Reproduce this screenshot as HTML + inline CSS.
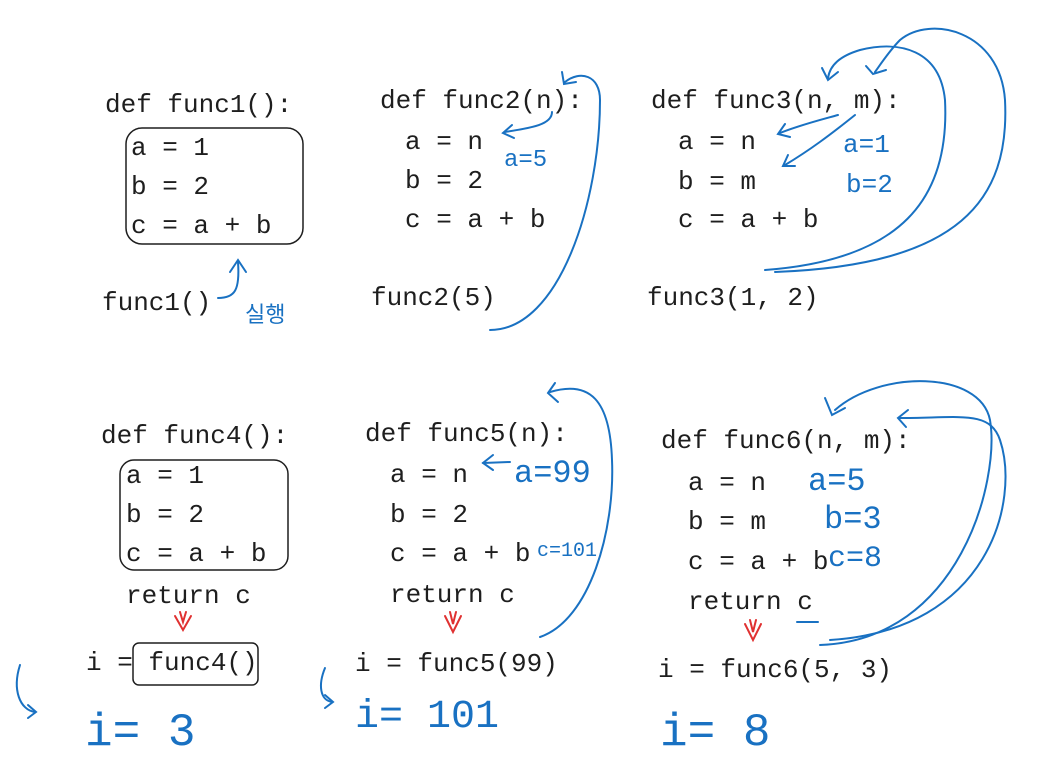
<!DOCTYPE html>
<html><head><meta charset="utf-8"><style>
html,body{margin:0;padding:0;background:#fff}
svg text{font-family:"Liberation Mono","Noto Sans CJK KR",monospace;}
</style></head><body>
<svg width="1041" height="769" viewBox="0 0 1041 769" xmlns="http://www.w3.org/2000/svg">
<g font-size="26" fill="#1e1e1e">
<text x="105" y="112">def func1():</text>
<text x="131" y="155">a = 1</text>
<text x="131" y="194">b = 2</text>
<text x="131" y="233">c = a + b</text>
<text x="102" y="310">func1()</text>

<text x="380" y="108">def func2(n):</text>
<text x="405" y="149">a = n</text>
<text x="405" y="188">b = 2</text>
<text x="405" y="227">c = a + b</text>
<text x="371" y="305">func2(5)</text>

<text x="651" y="108">def func3(n, m):</text>
<text x="678" y="149">a = n</text>
<text x="678" y="189">b = m</text>
<text x="678" y="227">c = a + b</text>
<text x="647" y="305">func3(1, 2)</text>

<text x="101" y="443">def func4():</text>
<text x="126" y="483">a = 1</text>
<text x="126" y="522">b = 2</text>
<text x="126" y="561">c = a + b</text>
<text x="126" y="603">return c</text>
<text x="86" y="670">i = func4()</text>

<text x="365" y="441">def func5(n):</text>
<text x="390" y="482">a = n</text>
<text x="390" y="522">b = 2</text>
<text x="390" y="561">c = a + b</text>
<text x="390" y="602">return c</text>
<text x="355" y="671">i = func5(99)</text>

<text x="661" y="448">def func6(n, m):</text>
<text x="688" y="490">a = n</text>
<text x="688" y="529">b = m</text>
<text x="688" y="569">c = a + b</text>
<text x="688" y="609">return c</text>
<text x="658" y="677">i = func6(5, 3)</text>
</g>
<g fill="none" stroke="#1e1e1e" stroke-width="1.5">
<rect x="126" y="128" width="177" height="116" rx="16"/>
<rect x="120" y="460" width="168" height="110" rx="14"/>
<rect x="133" y="643" width="125" height="42" rx="6"/>
</g>
<g fill="none" stroke="#1971c2" stroke-width="2" stroke-linecap="round">
<path d="M218 298 C235 298 240 290 238 262"/><path d="M230 272 L238 260 L246 272"/>
<path d="M552 112 C552 125 530 128 505 132"/><path d="M512 125 L503 133 L514 138"/>
<path d="M490 330 C560 330 600 200 600 100 C600 75 580 70 565 82"/><path d="M562 72 L564 84 L576 82"/>
<path d="M838 115 C820 120 800 125 780 133"/><path d="M785 124 L778 134 L790 137"/>
<path d="M855 115 C830 135 810 150 785 165"/><path d="M788 155 L783 166 L795 166"/>
<path d="M765 270 C900 260 950 200 945 100 C940 50 900 40 860 50 C840 56 830 65 828 78"/><path d="M822 68 L828 80 L838 72"/>
<path d="M775 272 C960 265 1010 200 1005 100 C1000 30 930 15 900 40 C890 50 880 65 875 72"/><path d="M866 66 L873 74 L886 70"/>
<path d="M540 637 C590 620 615 530 612 460 C610 400 590 380 550 392"/><path d="M555 383 L548 393 L558 402"/>
<path d="M483 463 L510 462"/><path d="M493 455 L483 463 L493 470"/>
<path d="M830 640 C990 630 1020 500 1000 440 C990 410 960 418 900 418"/><path d="M908 410 L898 418 L906 427"/>
<path d="M820 645 C960 640 1000 480 990 420 C980 370 880 370 835 410"/><path d="M825 398 L832 415 L845 408"/>
<path d="M797 622 L818 622"/>
<path d="M20 665 C12 690 20 710 35 712"/><path d="M28 705 L36 712 L28 718"/>
<path d="M325 668 C318 685 320 700 332 702"/><path d="M325 695 L333 702 L325 708"/>
</g>
<g fill="#1971c2" font-size="26">
<text x="504" y="166" font-size="24">a=5</text>
<text x="843" y="152" font-size="26">a=1</text>
<text x="846" y="192" font-size="26">b=2</text>
<text x="514" y="482" font-size="32">a=99</text>
<text x="537" y="556" font-size="20">c=101</text>
<text x="808" y="490" font-size="32">a=5</text>
<text x="824" y="528" font-size="32">b=3</text>
<text x="828" y="566" font-size="30">c=8</text>
<text x="245" y="322" font-size="22">실행</text>
<text x="85" y="745" font-size="46">i= 3</text>
<text x="355" y="727" font-size="40">i= 101</text>
<text x="660" y="745" font-size="46">i= 8</text>
</g>
<g fill="none" stroke="#e03131" stroke-width="2" stroke-linecap="round">
<path d="M175 616 L183 630 L191 616"/><path d="M180 612 L183 622 L186 612"/>
<path d="M445 616 L453 632 L461 616"/><path d="M450 612 L453 624 L456 612"/>
<path d="M745 624 L753 640 L761 624"/><path d="M750 620 L753 632 L756 620"/>
</g>
</svg>
</body></html>
